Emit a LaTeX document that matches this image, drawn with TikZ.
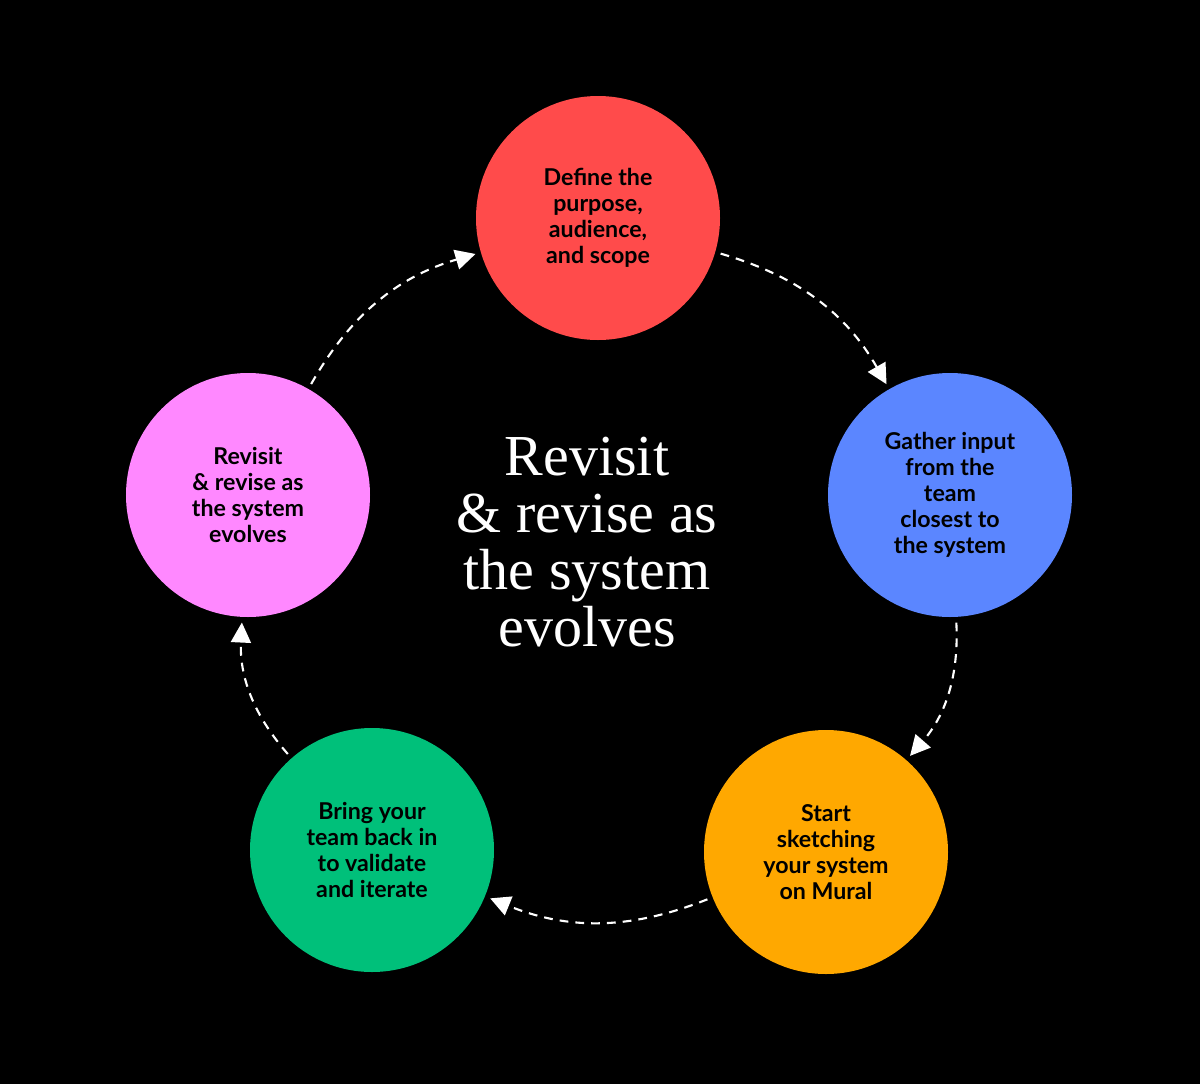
\documentclass[tikz,border=0pt]{standalone}
\usepackage{fontspec}
\setmainfont{Liberation Serif}
\newfontfamily\stepfont{Lato}
\usetikzlibrary{arrows.meta,positioning}
\definecolor{stepred}{HTML}{FF4B4B}
\definecolor{stepblue}{HTML}{5B86FF}
\definecolor{steporange}{HTML}{FFA800}
\definecolor{stepgreen}{HTML}{00C07A}
\definecolor{steppink}{HTML}{FF88FF}

\begin{document}
\begin{tikzpicture}[stage/.style={circle, minimum size=2.44cm, inner sep=0pt, align=center,
		font=\stepfont\bfseries\fontsize{6.6}{7.4}\selectfont, text=black},
	flow/.style={white, semithick, dash pattern=on 2.5pt off 2pt, -{Triangle[length=2mm,width=2mm]}, shorten <=0.5mm, shorten >=0.5mm}]
		\fill[black] (0,0) rectangle (12,10.84);
		\node[stage, fill=stepred] (define) at (5.98,8.66) {Define the\\purpose,\\audience,\\and scope};
		\node[stage, fill=stepblue] (gather) at (9.50,5.89) {Gather input\\from the\\team\\closest to\\the system};
		\node[stage, fill=steporange] (sketch) at (8.26,2.32) {Start\\sketching\\your system\\on Mural};
		\node[stage, fill=stepgreen] (validate) at (3.72,2.34) {Bring your\\team back in\\to validate\\and iterate};
		\node[stage, fill=steppink] (revisit) at (2.48,5.89) {Revisit\\\& revise as\\the system\\evolves};

		\draw[flow] (define) to[bend left=22] (gather);
		\draw[flow] (gather) to[bend left=22] (sketch);
		\draw[flow] (sketch) to[bend left=22] (validate);
		\draw[flow] (validate) to[bend left=22] (revisit);
		\draw[flow] (revisit) to[bend left=22] (define);

		\node[white, align=center, font=\fontsize{16.5}{16.2}\selectfont] (title) at (5.87,5.42)
			{Revisit\\\& revise as\\the system\\evolves};
	\end{tikzpicture}
\end{document}
